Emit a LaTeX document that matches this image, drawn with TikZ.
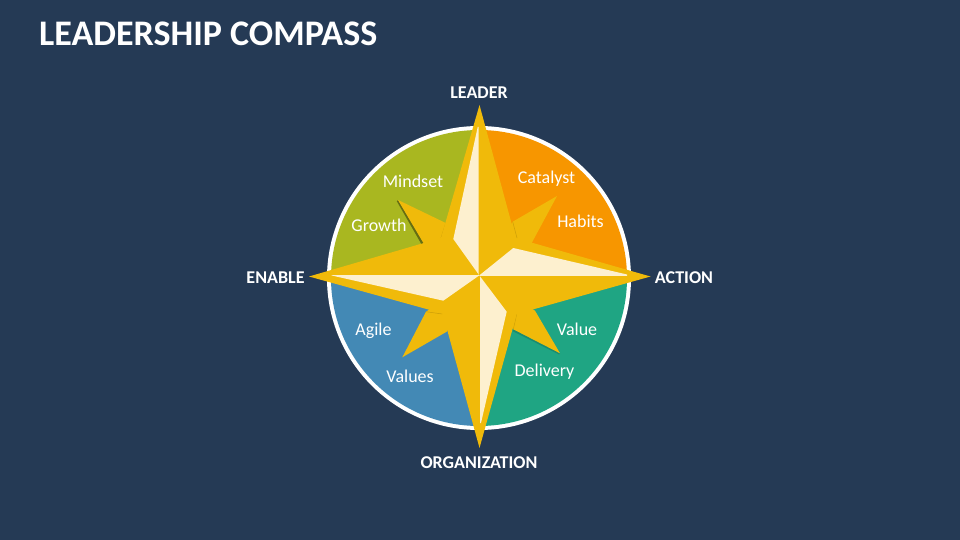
\documentclass[tikz,border=0pt]{standalone}
\usepackage{fontspec}
\setmainfont{Carlito}
\definecolor{bgnavy}{HTML}{253A55}
\definecolor{qgreen}{HTML}{A9B720}
\definecolor{qorange}{HTML}{F79600}
\definecolor{qblue}{HTML}{4389B5}
\definecolor{qteal}{HTML}{1FA583}
\definecolor{stargold}{HTML}{F0BA0A}
\definecolor{starcream}{HTML}{FDF0CF}
\tikzset{
	star/.style={fill=stargold},
	facet/.style={fill=starcream},
	castshadow/.style={fill=black,opacity=0.4},
	creaseline/.style={draw=black!15!stargold,line width=0.5pt},
	inlabel/.style={text=white,font=\fontsize{18}{20}\selectfont,inner sep=0pt},
	outlabel/.style={text=white,font=\bfseries\fontsize{18}{20}\selectfont,inner sep=0pt},
}
\begin{document}
\begin{tikzpicture}[x=1pt,y=-1pt]
		\fill[bgnavy] (0,0) rectangle (960,540);
		\useasboundingbox (0,0) rectangle (960,540);
		
		\node[anchor=west,text=white,font=\bfseries\fontsize{36}{40}\selectfont,inner sep=0pt] (title) at (39,34) {LEADERSHIP COMPASS};
		
		% ring and quarters
		\coordinate (m) at (479,278);
		\coordinate (o) at (479.3,275.4);
		\fill[white] (m) circle (152);
		\fill[qgreen] (m) -- (331,278) arc (180:270:148) -- cycle;
		\fill[qorange] (m) -- (479,130) arc (270:360:148) -- cycle;
		\fill[qteal] (m) -- (627,278) arc (0:90:148) -- cycle;
		\fill[qblue] (m) -- (479,426) arc (90:180:148) -- cycle;
		
		% small star
		\fill[castshadow] (396.8,201.2) -- (422.5,246) -- (425.5,245.5) -- (398,200) -- cycle;
		\fill[castshadow,opacity=0.15] (559,354.5) -- (512.5,331) -- (513.3,329.3) -- (560,353.3) -- cycle;
		\fill[star] (o) -- (424,244) -- (398,200) -- (445.7,223) -- cycle;
		\fill[star] (o) -- (512.7,221.7) -- (557,196) -- (531.7,243) -- cycle;
		\fill[star] (o) -- (535,310.7) -- (560,353.3) -- (513.3,329.3) -- cycle;
		\fill[star] (o) -- (446.7,331.7) -- (402.3,357.3) -- (426,311.7) -- cycle;
		\draw[creaseline] (441,238) -- (445.7,223);
		\draw[creaseline] (517,238) -- (512.7,221.7);
		\draw[creaseline] (442.3,314) -- (426,311.7);
		\draw[creaseline] (516.7,314) -- (513.3,329.3);
		
		% big star
		\coordinate (n) at (479.5,105);
		\coordinate (e) at (650.5,276.5);
		\coordinate (s) at (479.5,448);
		\coordinate (w) at (309,276.5);
		\fill[star] (n) -- (515.5,238) -- (e) -- (516.7,314) -- (s) -- (442.7,313.5) -- (w) -- (441,238) -- cycle;
		
		\fill[facet] (o) -- (453.3,239) -- (477.7,127) -- (478.6,127) -- (478.6,275) -- cycle;
		\fill[facet] (o) -- (513.3,248) -- (627,274.5) -- (627,275.8) -- (480,275.8) -- cycle;
		\fill[facet] (o) -- (506.7,311.7) -- (481,423) -- (480,423) -- (480,276) -- cycle;
		\fill[facet] (o) -- (443.3,300.7) -- (331.7,275.5) -- (331.7,275) -- (478.5,275) -- cycle;
		
		\node[outlabel] (leader) at (479,92.7) {LEADER};
		\node[outlabel] (action) at (684,277.7) {ACTION};
		\node[outlabel] (organization) at (479,462.7) {ORGANIZATION};
		\node[outlabel] (enable) at (275.5,277.7) {ENABLE};
		
		\node[inlabel] (mindset) at (413,181) {Mindset};
		\node[inlabel] (growth) at (379,225) {Growth};
		\node[inlabel] (catalyst) at (546.5,179) {Catalyst};
		\node[inlabel] (habits) at (580.5,221) {Habits};
		\node[inlabel] (value) at (577,329) {Value};
		\node[inlabel] (delivery) at (544.5,372) {Delivery};
		\node[inlabel] (agile) at (373.5,331) {Agile};
		\node[inlabel] (values) at (410,376) {Values};
		\end{tikzpicture}
\end{document}
